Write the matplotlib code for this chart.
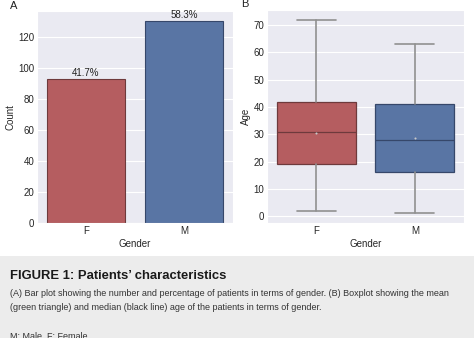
import matplotlib
matplotlib.use("Agg")
import matplotlib.pyplot as plt
import seaborn as sns

sns.set_style("darkgrid")
plt.rcParams['font.family'] = ['Liberation Sans', 'DejaVu Sans']

# Data
genders = ["F", "M"]
counts = [93, 130]
percent_labels = ["41.7%", "58.3%"]
age_whislo = [2, 1]
age_q1 = [19, 16]
age_med = [31, 28]
age_q3 = [42, 41]
age_whishi = [72, 63]
age_mean = [30.5, 28.5]

colors = ["#b55d60", "#5975a4"]
edge_dark = ["#6e3a3c", "#36476a"]

fig = plt.figure(figsize=(4.74, 3.38), dpi=100)
fig.patch.set_facecolor("white")

# caption background
fig.patches.append(plt.Rectangle((0, 0), 1, (338 - 256) / 338, transform=fig.transFigure,
                                 facecolor="#ececec", edgecolor="none", zorder=0))

W, H = 474, 338
def ax_rect(l, t, r, b):
    return [l / W, 1 - b / H, (r - l) / W, (b - t) / H]

# Panel A
axA = fig.add_axes(ax_rect(37, 11, 233, 223))
x = range(len(genders))
axA.bar(x, counts, width=0.8, color=colors, edgecolor=edge_dark, linewidth=0.8, zorder=2)
for xi, c, lab in zip(x, counts, percent_labels):
    axA.text(xi, c + 0.5, lab, ha="center", va="bottom", fontsize=7, color="#222222")
axA.set_xticks(list(x))
axA.set_xticklabels(genders)
axA.set_xlim(-0.5, 1.5)
axA.set_ylim(0, max(counts) * 1.05)
axA.set_yticks([0, 20, 40, 60, 80, 100, 120])
axA.grid(axis="x", visible=False)
axA.set_xlabel("Gender", fontsize=7, labelpad=2)
axA.set_ylabel("Count", fontsize=7, labelpad=2)
axA.tick_params(labelsize=7, pad=2, length=0)
fig.text(14 / W, 1 - 6 / H, "A", fontsize=8, ha="center", va="center", color="#222222")

# Panel B
axB = fig.add_axes(ax_rect(267, 10, 464, 223))
stats = []
for i, g in enumerate(genders):
    stats.append(dict(label=g, whislo=age_whislo[i], q1=age_q1[i], med=age_med[i],
                      q3=age_q3[i], whishi=age_whishi[i], mean=age_mean[i], fliers=[]))
bp = axB.bxp(stats, positions=list(range(len(genders))), widths=0.8, patch_artist=True,
             showmeans=True, showfliers=False, manage_ticks=False,
             whiskerprops=dict(color="#909090", linewidth=1.2),
             capprops=dict(color="#909090", linewidth=1.2),
             meanprops=dict(marker="o", markersize=1.5, markerfacecolor="#c8c8c8",
                            markeredgecolor="none"))
for i, box in enumerate(bp["boxes"]):
    box.set_facecolor(colors[i])
    box.set_edgecolor(edge_dark[i])
    box.set_linewidth(0.9)
    box.set_zorder(2)
for i, med in enumerate(bp["medians"]):
    med.set_color(edge_dark[i])
    med.set_linewidth(0.9)
axB.set_xticks(list(range(len(genders))))
axB.set_xticklabels(genders)
axB.set_xlim(-0.5, 1.5)
lo, hi = min(age_whislo), max(age_whishi)
pad = (hi - lo) * 0.05
axB.set_ylim(lo - pad, hi + pad)
axB.set_yticks([0, 10, 20, 30, 40, 50, 60, 70])
axB.grid(axis="x", visible=False)
axB.set_xlabel("Gender", fontsize=7, labelpad=2)
axB.set_ylabel("Age", fontsize=7, labelpad=2)
axB.tick_params(labelsize=7, pad=2, length=0)
fig.text(245 / W, 1 - 4 / H, "B", fontsize=8, ha="center", va="center", color="#222222")

# Caption
fig.text(10 / W, 1 - 276 / H, "FIGURE 1: Patients\u2019 characteristics", fontsize=9.4,
         fontweight="bold", ha="left", va="center", color="#1a1a1a")
fig.text(10 / W, 1 - 293 / H,
         "(A) Bar plot showing the number and percentage of patients in terms of gender. (B) Boxplot showing the mean",
         fontsize=6.5, ha="left", va="center", color="#333333")
fig.text(10 / W, 1 - 307 / H,
         "(green triangle) and median (black line) age of the patients in terms of gender.",
         fontsize=6.5, ha="left", va="center", color="#333333")
fig.text(10 / W, 1 - 336 / H, "M: Male, F: Female", fontsize=6.5, ha="left", va="center",
         color="#333333")

fig.savefig("out.png", dpi=100)
